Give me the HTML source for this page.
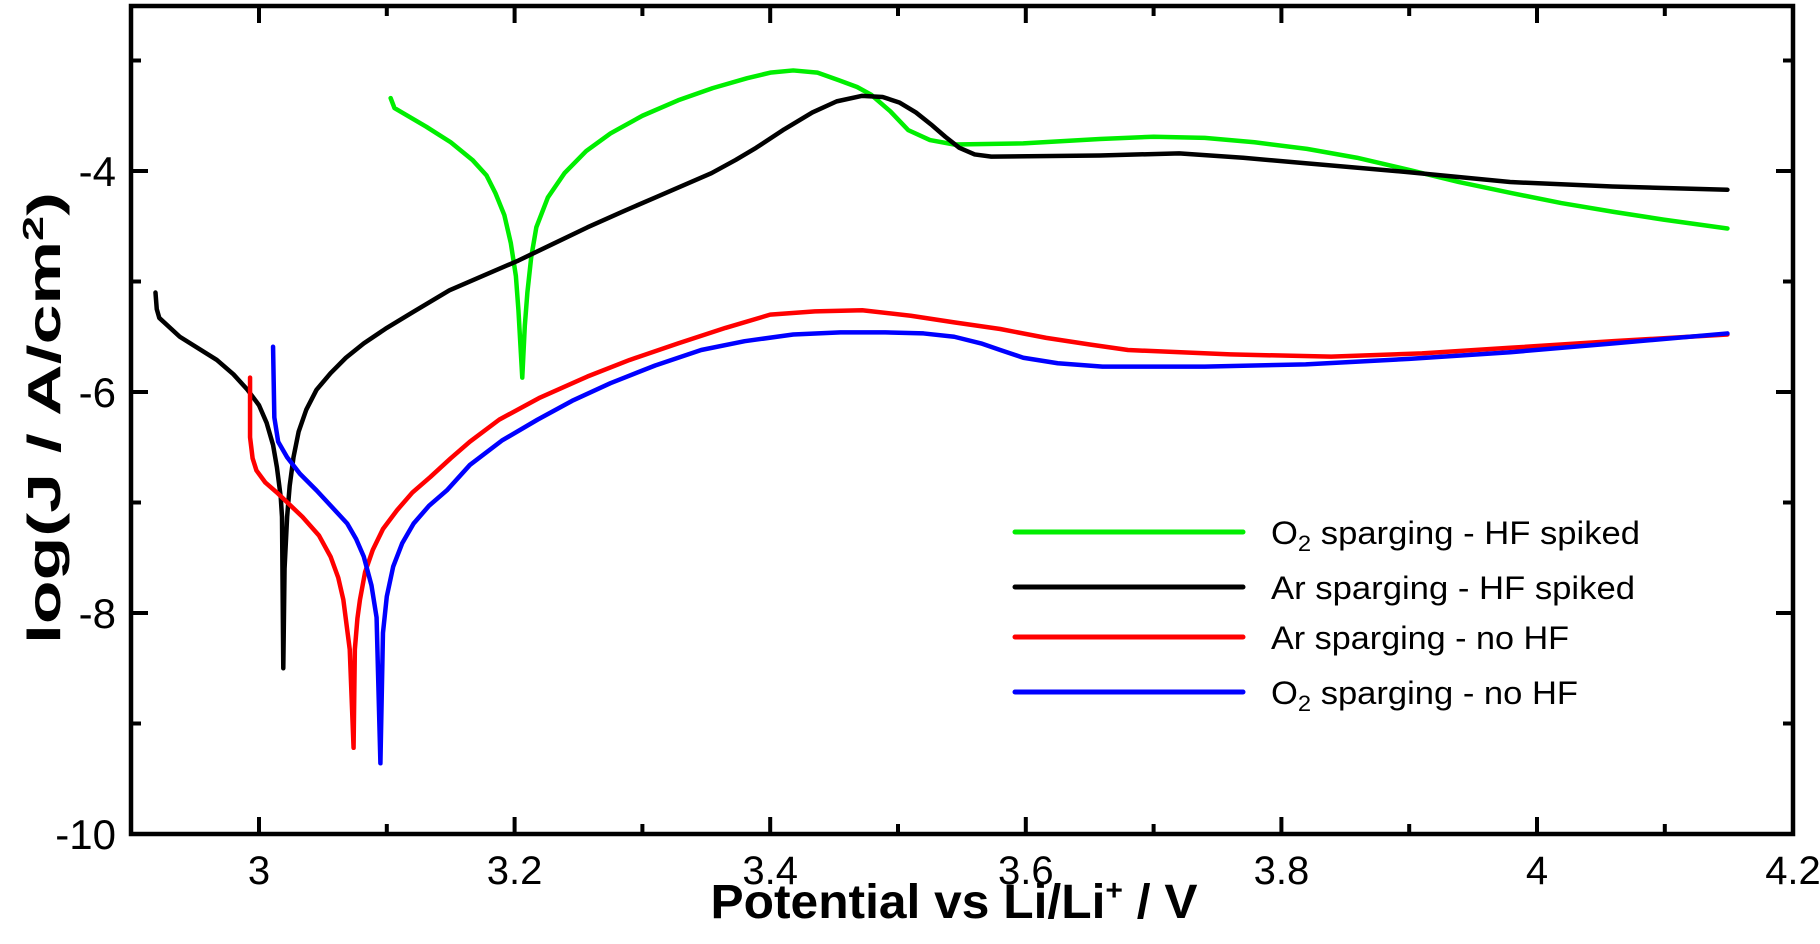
<!DOCTYPE html>
<html><head><meta charset="utf-8"><style>
html,body{margin:0;padding:0;background:#fff;}
svg{display:block;}
text{font-family:"Liberation Sans",Arial,sans-serif;fill:#000;}
</style></head><body>
<svg width="1820" height="944" viewBox="0 0 1820 944" xmlns="http://www.w3.org/2000/svg">
<rect width="1820" height="944" fill="#fff"/>
<g transform="matrix(1278,0,0,-110.5,-3575,-271)" fill="none" stroke-linejoin="round" stroke-linecap="round">
<polyline vector-effect="non-scaling-stroke" stroke="#00ee00" stroke-width="4.5" points="3.103,-3.34 3.106,-3.43 3.131,-3.60 3.150,-3.74 3.167,-3.90 3.178,-4.04 3.185,-4.20 3.192,-4.40 3.197,-4.65 3.201,-4.95 3.203,-5.26 3.206,-5.87 3.208,-5.40 3.210,-5.10 3.213,-4.78 3.217,-4.51 3.226,-4.24 3.239,-4.02 3.256,-3.82 3.275,-3.66 3.300,-3.50 3.328,-3.36 3.355,-3.25 3.382,-3.16 3.400,-3.11 3.418,-3.09 3.437,-3.11 3.454,-3.18 3.468,-3.24 3.479,-3.31 3.494,-3.46 3.508,-3.63 3.525,-3.72 3.544,-3.76 3.598,-3.75 3.658,-3.71 3.70,-3.69 3.740,-3.70 3.779,-3.74 3.820,-3.80 3.859,-3.88 3.900,-3.99 3.939,-4.10 3.980,-4.20 4.019,-4.29 4.060,-4.37 4.099,-4.44 4.149,-4.52"/>
<polyline vector-effect="non-scaling-stroke" stroke="#000" stroke-width="4.5" points="2.919,-5.10 2.920,-5.25 2.922,-5.33 2.938,-5.50 2.967,-5.71 2.980,-5.84 2.991,-5.98 3.000,-6.12 3.006,-6.28 3.011,-6.48 3.014,-6.68 3.017,-6.95 3.018,-7.13 3.019,-8.50 3.020,-7.6 3.022,-7.13 3.024,-6.85 3.027,-6.59 3.031,-6.36 3.037,-6.16 3.045,-5.98 3.056,-5.83 3.068,-5.69 3.082,-5.56 3.100,-5.42 3.120,-5.28 3.149,-5.08 3.175,-4.95 3.203,-4.81 3.230,-4.66 3.257,-4.51 3.284,-4.37 3.310,-4.24 3.354,-4.02 3.373,-3.90 3.389,-3.79 3.410,-3.63 3.433,-3.47 3.452,-3.37 3.472,-3.32 3.488,-3.33 3.501,-3.38 3.514,-3.47 3.526,-3.58 3.537,-3.69 3.548,-3.79 3.560,-3.85 3.573,-3.87 3.658,-3.86 3.72,-3.84 3.77,-3.88 3.819,-3.93 3.899,-4.01 3.979,-4.10 4.059,-4.14 4.149,-4.17"/>
<polyline vector-effect="non-scaling-stroke" stroke="#ff0000" stroke-width="4.5" points="2.993,-5.87 2.993,-6.41 2.995,-6.60 2.998,-6.71 3.005,-6.82 3.014,-6.91 3.034,-7.13 3.047,-7.30 3.056,-7.49 3.062,-7.68 3.066,-7.88 3.071,-8.33 3.074,-9.22 3.075,-8.33 3.077,-8.05 3.079,-7.88 3.083,-7.63 3.089,-7.43 3.097,-7.24 3.108,-7.07 3.120,-6.91 3.134,-6.77 3.150,-6.60 3.165,-6.45 3.188,-6.25 3.220,-6.05 3.257,-5.86 3.290,-5.71 3.328,-5.56 3.365,-5.42 3.400,-5.30 3.435,-5.27 3.472,-5.26 3.510,-5.31 3.544,-5.37 3.580,-5.43 3.616,-5.51 3.650,-5.57 3.680,-5.62 3.760,-5.66 3.839,-5.68 3.910,-5.65 3.979,-5.60 4.060,-5.54 4.149,-5.48"/>
<polyline vector-effect="non-scaling-stroke" stroke="#0000ff" stroke-width="4.5" points="3.011,-5.59 3.012,-6.23 3.015,-6.45 3.022,-6.59 3.032,-6.74 3.045,-6.89 3.069,-7.19 3.076,-7.33 3.082,-7.49 3.088,-7.75 3.092,-8.04 3.095,-9.36 3.097,-8.18 3.100,-7.85 3.105,-7.58 3.112,-7.37 3.121,-7.19 3.133,-7.03 3.147,-6.89 3.165,-6.66 3.190,-6.44 3.218,-6.25 3.245,-6.08 3.275,-5.92 3.310,-5.76 3.346,-5.62 3.380,-5.54 3.418,-5.48 3.455,-5.46 3.490,-5.46 3.520,-5.47 3.544,-5.50 3.565,-5.56 3.580,-5.62 3.598,-5.69 3.625,-5.74 3.660,-5.77 3.740,-5.77 3.819,-5.75 3.900,-5.70 3.979,-5.64 4.060,-5.56 4.149,-5.47"/>
</g>
<rect x="131" y="6" width="1662" height="828" fill="none" stroke="#000" stroke-width="4.5"/>
<g stroke="#000" stroke-width="4">
<path d="M259,834v-17M514.6,834v-17M770.2,834v-17M1025.8,834v-17M1281.4,834v-17M1537,834v-17
M386.8,834v-10M642.4,834v-10M898,834v-10M1153.6,834v-10M1409.2,834v-10M1664.8,834v-10
M259,6v17M514.6,6v17M770.2,6v17M1025.8,6v17M1281.4,6v17M1537,6v17
M386.8,6v10M642.4,6v10M898,6v10M1153.6,6v10M1409.2,6v10M1664.8,6v10
M131,171h17M131,392h17M131,613h17M131,60.5h10M131,281.5h10M131,502.5h10M131,723.5h10
M1793,171h-17M1793,392h-17M1793,613h-17M1793,60.5h-10M1793,281.5h-10M1793,502.5h-10M1793,723.5h-10"/>
</g>
<g font-size="40" text-anchor="middle">
<text x="259" y="884">3</text>
<text x="514.6" y="884">3.2</text>
<text x="770.2" y="884">3.4</text>
<text x="1025.8" y="884">3.6</text>
<text x="1281.4" y="884">3.8</text>
<text x="1537" y="884">4</text>
<text x="1793" y="884">4.2</text>
</g>
<g font-size="42" text-anchor="end">
<text x="116" y="186">-4</text>
<text x="116" y="407">-6</text>
<text x="116" y="628">-8</text>
<text x="116" y="849">-10</text>
</g>
<text x="954" y="918" font-size="48" font-weight="bold" text-anchor="middle" textLength="487" lengthAdjust="spacingAndGlyphs">Potential vs Li/Li<tspan font-size="29" dy="-18">+</tspan><tspan dy="18"> / V</tspan></text>
<text transform="translate(60,418) rotate(-90)" font-size="46" font-weight="bold" text-anchor="middle" textLength="452" lengthAdjust="spacingAndGlyphs">log(J / A/cm<tspan font-size="29" dy="-17">2</tspan><tspan dy="17">)</tspan></text>
<g stroke-width="5" stroke-linecap="round">
<line x1="1015" y1="532" x2="1243" y2="532" stroke="#00ee00"/>
<line x1="1015" y1="587" x2="1243" y2="587" stroke="#000"/>
<line x1="1015" y1="637" x2="1243" y2="637" stroke="#ff0000"/>
<line x1="1015" y1="692" x2="1243" y2="692" stroke="#0000ff"/>
</g>
<g font-size="32">
<text x="1271" y="544" textLength="369" lengthAdjust="spacingAndGlyphs">O<tspan font-size="22" dy="7">2</tspan><tspan dy="-7"> sparging - HF spiked</tspan></text>
<text x="1271" y="599" textLength="364" lengthAdjust="spacingAndGlyphs">Ar sparging - HF spiked</text>
<text x="1271" y="649" textLength="298" lengthAdjust="spacingAndGlyphs">Ar sparging - no HF</text>
<text x="1271" y="704" textLength="307" lengthAdjust="spacingAndGlyphs">O<tspan font-size="22" dy="7">2</tspan><tspan dy="-7"> sparging - no HF</tspan></text>
</g>
</svg>
</body></html>
